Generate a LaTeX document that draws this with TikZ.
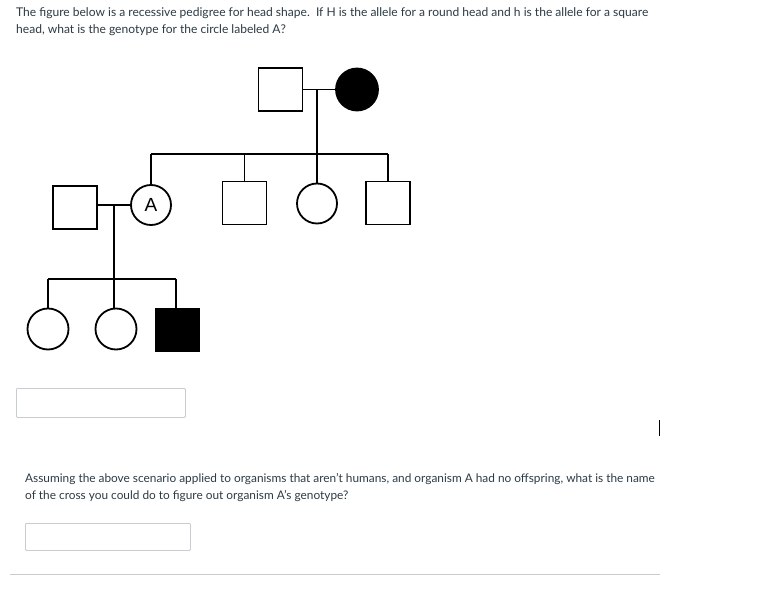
\documentclass[tikz,border=0pt]{standalone}
\usepackage{fontspec}
\setmainfont{Lato}
\newfontfamily\labfont{Liberation Sans}
\definecolor{txt}{HTML}{2D3B45}
\definecolor{boxgray}{HTML}{C7CDD1}
\begin{document}
\begin{tikzpicture}[x=1pt,y=-1pt,
  male/.style={draw,line width=1.8pt,minimum width=44pt,minimum height=43pt,inner sep=0pt},
  female/.style={draw,circle,line width=1.8pt,minimum size=40pt,inner sep=0pt},
  affected/.style={fill=black},
  conn/.style={line width=1.3pt},
  qtext/.style={anchor=base west,inner sep=0pt,text=txt,font=\fontsize{12.05}{14}\selectfont},
  ansbox/.style={draw=boxgray,line width=0.8pt,rounded corners=1pt}]
\useasboundingbox (0,0) rectangle (759,588);
\fill[white] (0,0) rectangle (759,588);
% question text
\node[qtext] (q1a) at (16,17) {The figure below is a recessive pedigree for head shape.\ \ If H is the allele for a round head and h is the allele for a square};
\node[qtext] (q1b) at (16,34) {head, what is the genotype for the circle labeled A?};
% generation I
\node[male] (f1) at (280.5,89.5) {};
\node[female,affected,minimum size=42pt] (m1) at (357,89.5) {};
\coordinate (mar1) at (317,89.5);
\coordinate (sib1) at (317,154);
\draw[conn] (f1.east) -- (m1.west);
\draw[conn] (mar1) -- (sib1);
% generation II
\node[female] (A) at (151,205) {\labfont\fontsize{19}{19}\selectfont A};
\node[male] (s2) at (244.5,203) {};
\node[female] (d2) at (317,203.5) {};
\node[male] (s3) at (388,203) {};
\coordinate (sibL) at (151,154);
\coordinate (sibS2) at (244.5,154);
\coordinate (sibS3) at (388,154);
\draw[conn] (sibL) -- (sibS3);
\draw[conn] (sibL) -- (A.north);
\draw[conn] (sibS2) -- (s2.north);
\draw[conn] (sib1) -- (d2.north);
\draw[conn] (sibS3) -- (s3.north);
\node[male] (h2) at (75,207.5) {};
\coordinate (mar2) at (114,205);
\coordinate (sib2) at (114,279);
\draw[conn] (h2.east |- mar2) -- (A.west);
\draw[conn] (mar2) -- (sib2);
% generation III
\node[female,minimum size=41pt] (c1) at (48,329) {};
\node[female,minimum size=41pt] (c2) at (116,329) {};
\node[male,affected] (c3) at (177.5,330) {};
\coordinate (sibC1) at (48,279);
\coordinate (sibC2) at (114,279);
\coordinate (sibC3) at (176,279);
\draw[conn] (sibC1) -- (sibC3);
\draw[conn] (sibC1) -- (c1.north);
\draw[conn] (sibC2) -- (sibC2 |- c2.north);
\draw[conn] (sibC3) -- (sibC3 |- c3.north);
% answer box 1
\node[ansbox,minimum width=169pt,minimum height=29pt,anchor=north west] (ans1) at (16,388) {};
% cursor
\coordinate (cur1) at (659,420);
\coordinate (cur2) at (659,436);
\draw[line width=1pt,black] (cur1) -- (cur2);
% second question
\node[qtext,font=\fontsize{11.85}{14}\selectfont] (q2a) at (25,482) {Assuming the above scenario applied to organisms that aren't humans, and organism A had no offspring, what is the name};
\node[qtext,font=\fontsize{11.85}{14}\selectfont] (q2b) at (25,499) {of the cross you could do to figure out organism A's genotype?};
\node[ansbox,minimum width=165pt,minimum height=27pt,anchor=north west] (ans2) at (25,523) {};
% bottom rule
\coordinate (r1) at (10,574);
\coordinate (r2) at (660,574);
\draw[boxgray,line width=1pt] (r1) -- (r2);
\end{tikzpicture}
\end{document}
